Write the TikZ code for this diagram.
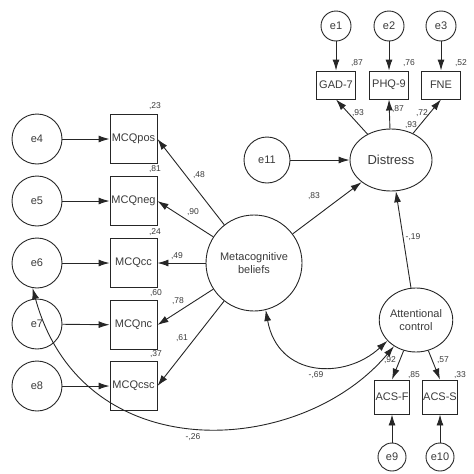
\documentclass[tikz,border=0pt]{standalone}
\usepackage{fontspec}
\setmainfont{Liberation Sans}
\usetikzlibrary{arrows.meta,shapes.geometric}
\definecolor{ink}{HTML}{262626}
\definecolor{txt}{HTML}{3A3A3A}
\begin{document}
\begin{tikzpicture}[x=1pt, y=-1pt, line width=0.9pt, draw=ink, text=txt,
	font=\fontsize{11}{13}\selectfont,
	err/.style={circle, draw, inner sep=0pt},
	obs/.style={rectangle, draw, inner sep=0pt, minimum width=47, minimum height=49},
	latent/.style={draw, inner sep=0pt, align=center},
	coef/.style={font=\fontsize{8.5}{9}\selectfont},
	path/.style={-{Latex[length=11pt,width=7pt]}},
	cov/.style={{Latex[length=11pt,width=7pt]}-{Latex[length=11pt,width=7pt]}}]
	\useasboundingbox (0,0) rectangle (474,474);

	% metacognition indicators
	\node [err, minimum size=50] (e4) at (37,139) {e4};
	\node [err, minimum size=50] (e5) at (37,201) {e5};
	\node [err, minimum size=50] (e6) at (37,263) {e6};
	\node [err, minimum size=50] (e7) at (37,324) {e7};
	\node [err, minimum size=50] (e8) at (37,386) {e8};
	\node [obs] (mcqpos) at (133.5,139) {MCQpos};
	\node [obs] (mcqneg) at (133.5,201) {MCQneg};
	\node [obs] (mcqcc) at (133.5,263) {MCQcc};
	\node [obs] (mcqnc) at (133.5,325) {MCQnc};
	\node [obs] (mcqcsc) at (133.5,386) {MCQcsc};
	\node [latent, circle, minimum size=96] (meta) at (254,263) {Metacognitive\\beliefs};

	\draw [path] (e4) -- (mcqpos);
	\draw [path] (e5) -- (mcqneg);
	\draw [path] (e6) -- (mcqcc);
	\draw [path] (e7) -- (mcqnc);
	\draw [path] (e8) -- (mcqcsc);
	\draw [path] (meta) -- (mcqpos.east);
	\draw [path] (meta) -- (mcqneg.east);
	\draw [path] (meta) -- (mcqcc.east);
	\draw [path] (meta) -- (mcqnc.east);
	\draw [path] (meta) -- (mcqcsc.east);

	\node [coef] (r2pos) at (155,106) {,23};
	\node [coef] (r2neg) at (155,169) {,81};
	\node [coef] (r2cc) at (155,232) {,24};
	\node [coef] (r2nc) at (156,293) {,60};
	\node [coef] (r2csc) at (156,354) {,37};
	\node [coef] (lpos) at (199,175) {,48};
	\node [coef] (lneg) at (193,212) {,90};
	\node [coef] (lcc) at (177,256) {,49};
	\node [coef] (lnc) at (178,301) {,78};
	\node [coef] (lcsc) at (182,338) {,61};

	% distress
	\node [latent, ellipse, minimum width=82, minimum height=62, font=\fontsize{13}{15}\selectfont] (distress) at (391,160) {Distress};
	\node [err, minimum size=46] (e11) at (267,160) {e11};
	\node [obs, minimum width=39, minimum height=28] (gad) at (336,85) {GAD-7};
	\node [obs, minimum width=39, minimum height=28] (phq) at (389,85) {PHQ-9};
	\node [obs, minimum width=39, minimum height=28] (fne) at (441,85) {FNE};
	\node [err, minimum size=30] (e1) at (336,26) {e1};
	\node [err, minimum size=30] (e2) at (389,26) {e2};
	\node [err, minimum size=30] (e3) at (441,26) {e3};

	\draw [path] (e1) -- (gad);
	\draw [path] (e2) -- (phq);
	\draw [path] (e3) -- (fne);
	\draw [path] (distress) -- (gad.south);
	\draw [path] (distress) -- (phq.south);
	\draw [path] (distress) -- (fne.south);
	\draw [path] (e11) -- (distress);
	\draw [path] (meta) -- (distress);

	\node [coef] (r2gad) at (357,63) {,87};
	\node [coef] (r2phq) at (409,63) {,76};
	\node [coef] (r2fne) at (461,63) {,52};
	\node [coef] (lgad) at (358,113) {,93};
	\node [coef] (lphq) at (398,109) {,87};
	\node [coef] (lfne) at (422,113) {,72};
	\node [coef] (r2dis) at (411,125) {,93};
	\node [coef] (bmeta) at (314,196) {,83};

	% attentional control
	\node [latent, ellipse, minimum width=68, minimum height=64] (ac) at (416,320) {Attentional\\control};
	\node [obs, minimum width=35, minimum height=34] (acsf) at (392,397) {ACS-F};
	\node [obs, minimum width=35, minimum height=34] (acss) at (440,397) {ACS-S};
	\node [err, minimum size=28] (e9) at (392,457) {e9};
	\node [err, minimum size=28] (e10) at (440,457) {e10};

	\draw [path] (ac) -- (distress);
	\draw [path] (ac) -- (acsf.north);
	\draw [path] (ac) -- (acss.north);
	\draw [path] (e9) -- (acsf);
	\draw [path] (e10) -- (acss);
	\draw [cov] (meta.284) .. controls (278,378) and (345,380) .. (ac.216);
	\draw [cov] (e6.260) .. controls (82,470) and (300,458) .. (ac.230);

	\node [coef] (bac) at (413,237) {-,19};
	\node [coef] (lacsf) at (390,360) {,92};
	\node [coef] (lacss) at (443,360) {,57};
	\node [coef] (r2acsf) at (414,375) {,85};
	\node [coef] (r2acss) at (460,375) {,33};
	\node [coef] (cmeta) at (316,375) {-,69};
	\node [coef] (ce6) at (193,437) {-,26};
\end{tikzpicture}
\end{document}
